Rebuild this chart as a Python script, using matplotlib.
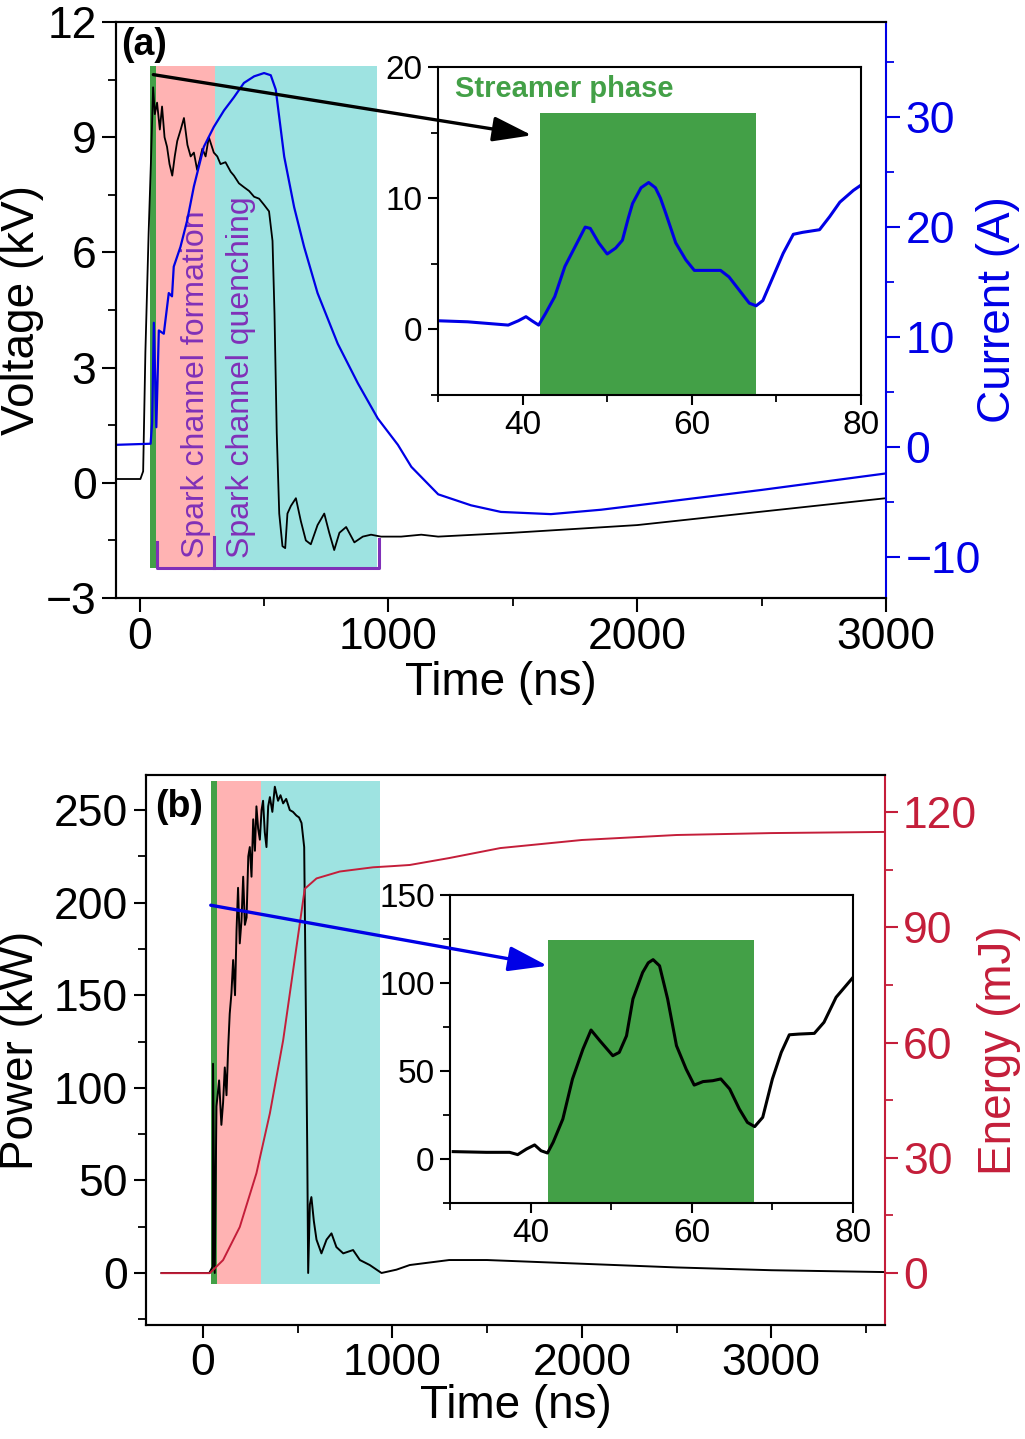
import matplotlib
matplotlib.use('Agg')
import matplotlib.pyplot as plt
from matplotlib.ticker import MultipleLocator
from matplotlib.patches import ConnectionPatch, ArrowStyle

plt.rcParams['font.family'] = ['Liberation Sans', 'DejaVu Sans']

# ---------------- data: panel (a) ----------------
t_volt = [-95, 3, 14, 23, 36, 46, 54, 61, 70, 81, 90, 100, 110, 120, 131, 141, 151, 165,
          178, 192, 205, 218, 231, 241, 252, 265, 278, 288, 298, 312, 325, 345, 366, 379,
          399, 419, 440, 460, 480, 500, 520, 534, 542, 551, 561, 574, 585, 594, 608, 628,
          648, 668, 688, 715, 742, 762, 782, 803, 830, 863, 897, 930, 970, 1051, 1132,
          1200, 1500, 2000, 2500, 3000]
volt = [0.1, 0.1, 0.3, 3.4, 6.5, 8.5, 10.3, 9.6, 9.9, 9.2, 9.8, 9.0, 8.75, 8.3, 8.0, 8.5,
        8.9, 9.2, 9.5, 8.8, 8.5, 8.6, 8.15, 8.4, 8.7, 8.5, 9.0, 8.8, 8.6, 8.5, 8.3, 8.35,
        8.1, 8.0, 7.8, 7.7, 7.6, 7.45, 7.4, 7.24, 7.07, 6.3, 4.4, 1.3, -0.8, -1.65, -1.7,
        -0.8, -0.6, -0.4, -1.0, -1.5, -1.6, -1.1, -0.8, -1.3, -1.75, -1.3, -1.15, -1.55,
        -1.4, -1.35, -1.4, -1.4, -1.35, -1.4, -1.3, -1.1, -0.75, -0.4]

t_curr = [-95, 44, 50, 57, 67, 77, 97, 117, 130, 137, 164, 191, 218, 258, 298, 339, 379,
          419, 460, 500, 527, 547, 581, 621, 661, 715, 796, 877, 957, 1038, 1092, 1200,
          1332, 1452, 1653, 1855, 2000, 2500, 3000]
curr = [0.2, 0.3, 2.2, 11.3, 1.8, 10.6, 10.3, 14.0, 13.7, 16.4, 18.2, 20.6, 23.7, 27.3,
        29.1, 30.6, 31.8, 33.1, 33.7, 34.0, 33.8, 32.5, 26.4, 21.8, 18.2, 14.0, 9.4, 5.8,
        2.6, 0.2, -1.8, -4.3, -5.3, -5.9, -6.1, -5.7, -5.3, -3.9, -2.4]

# inset (a): zoom on the streamer phase
t_ins_a = [30.0, 33.5, 38.3, 39.5, 40.4, 41.1, 41.9, 42.7, 43.8, 45.0, 46.2, 47.4, 48.0,
           49.0, 50.0, 51.0, 51.8, 52.5, 53.0, 54.0, 54.9, 55.7, 56.3, 56.9, 58.1, 59.3,
           60.3, 61.7, 63.4, 64.4, 65.6, 66.8, 67.6, 68.4, 69.6, 70.8, 72.0, 73.1, 75.1,
           76.3, 77.5, 79.1, 80.0]
ins_a = [0.66, 0.58, 0.33, 0.66, 0.97, 0.66, 0.33, 1.2, 2.5, 4.8, 6.3, 7.8, 7.7, 6.6,
         5.75, 6.2, 6.8, 8.5, 9.6, 10.8, 11.2, 10.8, 10.0, 8.9, 6.6, 5.3, 4.5, 4.5, 4.5,
         4.0, 3.0, 2.0, 1.8, 2.2, 4.0, 5.8, 7.25, 7.4, 7.6, 8.6, 9.7, 10.6, 11.0]

# phase boundaries (ns): streamer | spark formation | spark quenching
phase_a = [43, 64, 304, 953]
phase_b = [42, 75, 306, 934]
streamer_ins_a = [42.0, 67.6]
streamer_ins_b = [42.1, 67.7]

# ---------------- data: panel (b) ----------------
t_pow = [-218, 34, 52, 54, 63, 72, 86, 98, 107, 116, 125, 134, 142, 151, 160, 170, 178,
         186, 195, 204, 213, 222, 231, 240, 248, 257, 266, 275, 283, 292, 301, 310, 318,
         327, 336, 345, 354, 367, 380, 397, 410, 424, 440, 459, 476, 494, 508, 521, 535,
         544, 551, 556, 565, 573, 586, 600, 626, 653, 679, 705, 741, 793, 829, 881, 943,
         1022, 1092, 1300, 1500, 2000, 2500, 3000, 3600]
power = [0, 0, 3.4, 113, 0, 90, 104, 80, 92, 111, 96, 122, 140, 151, 169, 150, 185, 208,
         178, 190, 214, 188, 192, 225, 230, 214, 245, 228, 252, 240, 234, 250, 255, 238,
         230, 252, 257, 249, 262.6, 255, 258, 253.6, 256, 250, 249, 247, 246, 243, 230,
         140, 68, 0, 37, 41, 28, 18, 10.6, 18, 21.4, 14, 10.6, 12.4, 7, 4.3, 0, 1.8, 4.3,
         7, 7, 5, 3, 1.5, 0.5]

t_en = [-218, 37, 107, 195, 283, 354, 424, 477, 512, 538, 600, 723, 899, 1000, 1092,
        1300, 1570, 2000, 2500, 3000, 3600]
energy = [0, 0, 3.4, 12, 26, 41.6, 60.6, 78.9, 91, 100, 102.7, 104.5, 105.6, 105.9, 106.2,
          108, 110.6, 112.7, 114, 114.5, 114.8]

t_ins_b = [30.4, 34.5, 37.4, 38.4, 39.5, 40.5, 41.3, 42.1, 42.8, 44.0, 45.2, 46.5, 47.5,
           48.6, 50.2, 51.0, 51.9, 52.7, 53.9, 54.6, 55.2, 56.0, 57.0, 58.1, 59.3, 60.3,
           61.4, 62.6, 63.6, 64.7, 65.9, 66.9, 67.8, 68.8, 70.0, 71.1, 72.1, 73.3, 75.2,
           76.4, 77.9, 80.0]
ins_b = [4.2, 3.8, 3.8, 2.5, 5.7, 8.0, 4.7, 3.4, 9.5, 22.7, 45.5, 62.5, 73.3, 67.2, 58.7,
         60.6, 70, 91, 106, 111.5, 113.3, 109.8, 91, 64.4, 51.1, 42, 44, 44.5, 45.5, 39.8,
         28.4, 20.8, 18.4, 23.7, 45.5, 60.6, 70.6, 71, 71.4, 77.7, 91.9, 103.2]

# ---------------- style ----------------
GREEN = '#43a047'
PINK = '#ffb3b3'
CYAN = '#9ee3e1'
PURPLE = '#8030b8'
BLUE = '#0000e6'
RED = '#c41e3a'
TICK_FS = 32
LABEL_FS = 33
INSET_FS = 24


def style_axis(a, fs, major=8, minor=5):
    a.tick_params(which='major', direction='out', length=major, width=1.5,
                  labelsize=fs, pad=4)
    a.tick_params(which='minor', direction='out', length=minor, width=1.3)
    for s in a.spines.values():
        s.set_linewidth(1.5)


def shade(a, edges, y0, y1):
    cols = [GREEN, PINK, CYAN]
    for k in range(3):
        a.fill_between([edges[k], edges[k + 1]], y0, y1, color=cols[k], lw=0, zorder=0)


fig = plt.figure(figsize=(10.25, 14.39), dpi=100)

# ================= panel (a) =================
ax = fig.add_axes([0.1132, 0.5844, 0.7512, 0.4003])
ax.set_xlim(-95, 3000)
ax.set_ylim(-3, 12)
shade(ax, phase_a, -2.22, 10.86)
ax.plot(t_volt, volt, color='k', lw=1.3, zorder=3)
ax.set_xticks([0, 1000, 2000, 3000])
ax.xaxis.set_minor_locator(MultipleLocator(500))
ax.set_yticks([-3, 0, 3, 6, 9, 12])
ax.yaxis.set_minor_locator(MultipleLocator(1.5))
style_axis(ax, TICK_FS, major=10, minor=6)
ax.set_xlabel('Time (ns)', fontsize=LABEL_FS, labelpad=2)
ax.set_ylabel('Voltage (kV)', fontsize=LABEL_FS)
ax.yaxis.set_label_coords(-0.094, 0.5)
ax.spines['right'].set_visible(False)

# bracket marking the spark phases
ax.plot([70, 70, 961, 961], [-1.55, -2.22, -2.22, -1.45], color=PURPLE, lw=2.2, zorder=4)
ax.plot([298, 298], [-2.22, -1.4], color=PURPLE, lw=2.2, zorder=4)
ax.text(225, -1.97, 'Spark channel formation', rotation=90, ha='center', va='bottom',
        color=PURPLE, fontsize=23, zorder=5)
ax.text(406, -1.97, 'Spark channel quenching', rotation=90, ha='center', va='bottom',
        color=PURPLE, fontsize=23, zorder=5)
ax.text(0.006, 0.992, '(a)', transform=ax.transAxes, ha='left', va='top',
        fontsize=27, fontweight='bold')

ax2 = ax.twinx()
ax2.set_ylim(-13.73, 38.64)
ax2.plot(t_curr, curr, color=BLUE, lw=1.6)
ax2.set_yticks([-10, 0, 10, 20, 30])
ax2.yaxis.set_minor_locator(MultipleLocator(5))
style_axis(ax2, TICK_FS, major=10, minor=6)
ax2.tick_params(axis='y', which='both', colors=BLUE)
ax2.spines['right'].set_color(BLUE)
ax2.set_ylabel('Current (A)', fontsize=LABEL_FS, color=BLUE)
ax2.yaxis.set_label_coords(1.117, 0.5)

axin_a = fig.add_axes([0.4273, 0.7255, 0.4127, 0.2279])
axin_a.set_xlim(30, 80)
axin_a.set_ylim(-5, 20)
axin_a.fill_between(streamer_ins_a, -5, 16.5, color=GREEN, lw=0, zorder=0)
axin_a.plot(t_ins_a, ins_a, color=BLUE, lw=2.2)
axin_a.set_xticks([40, 60, 80])
axin_a.xaxis.set_minor_locator(MultipleLocator(10))
axin_a.set_yticks([0, 10, 20])
axin_a.yaxis.set_minor_locator(MultipleLocator(5))
style_axis(axin_a, INSET_FS, major=7, minor=5)
axin_a.text(32, 18.3, 'Streamer phase', color=GREEN, fontsize=21, fontweight='bold',
            ha='left', va='center')

con_a = ConnectionPatch(xyA=(55, 10.63), coordsA='data', axesA=ax,
                        xyB=(41.1, 14.8), coordsB='data', axesB=axin_a,
                        arrowstyle=ArrowStyle('-|>', head_length=1.0, head_width=0.32),
                        mutation_scale=24, color='k', lw=2.4, zorder=10)
fig.add_artist(con_a)

# ================= panel (b) =================
bx = fig.add_axes([0.1424, 0.0792, 0.7210, 0.3822])
bx.set_xlim(-300, 3600)
bx.set_ylim(-28.1, 268.9)
shade(bx, phase_b, -6.1, 265.7)
bx.plot(t_pow, power, color='k', lw=1.4, zorder=3)
bx.set_xticks([0, 1000, 2000, 3000])
bx.xaxis.set_minor_locator(MultipleLocator(500))
bx.set_yticks([0, 50, 100, 150, 200, 250])
bx.yaxis.set_minor_locator(MultipleLocator(25))
style_axis(bx, TICK_FS, major=9, minor=6)
bx.set_xlabel('Time (ns)', fontsize=LABEL_FS, labelpad=0)
bx.set_ylabel('Power (kW)', fontsize=LABEL_FS)
bx.yaxis.set_label_coords(-0.139, 0.5)
bx.spines['right'].set_visible(False)
bx.text(0.012, 0.975, '(b)', transform=bx.transAxes, ha='left', va='top',
        fontsize=27, fontweight='bold')

bx2 = bx.twinx()
bx2.set_ylim(-13.5, 129.6)
bx2.plot(t_en, energy, color=RED, lw=1.4)
bx2.set_yticks([0, 30, 60, 90, 120])
bx2.yaxis.set_minor_locator(MultipleLocator(15))
style_axis(bx2, TICK_FS, major=9, minor=6)
bx2.tick_params(axis='y', which='both', colors=RED)
bx2.spines['right'].set_color(RED)
bx2.set_ylabel('Energy (mJ)', fontsize=LABEL_FS, color=RED)
bx2.yaxis.set_label_coords(1.124, 0.5)

axin_b = fig.add_axes([0.4390, 0.1640, 0.3932, 0.2140])
axin_b.set_xlim(30, 80)
axin_b.set_ylim(-25, 150)
axin_b.fill_between(streamer_ins_b, -25, 124.4, color=GREEN, lw=0, zorder=0)
axin_b.plot(t_ins_b, ins_b, color='k', lw=2.2)
axin_b.set_xticks([40, 60, 80])
axin_b.xaxis.set_minor_locator(MultipleLocator(10))
axin_b.set_yticks([0, 50, 100, 150])
axin_b.yaxis.set_minor_locator(MultipleLocator(25))
style_axis(axin_b, INSET_FS, major=7, minor=5)

con_b = ConnectionPatch(xyA=(42, 198.6), coordsA='data', axesA=bx,
                        xyB=(42.1, 109.8), coordsB='data', axesB=axin_b,
                        arrowstyle=ArrowStyle('-|>', head_length=1.0, head_width=0.32),
                        mutation_scale=24, color=BLUE, lw=2.4, zorder=10)
fig.add_artist(con_b)

fig.savefig('out.png', dpi=100)
